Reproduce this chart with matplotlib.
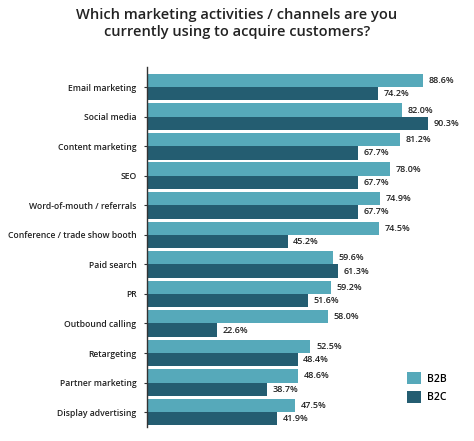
import matplotlib.pyplot as plt
import numpy as np

categories = [
    "Email marketing", "Social media", "Content marketing", "SEO",
    "Word-of-mouth / referrals", "Conference / trade show booth",
    "Paid search", "PR", "Outbound calling", "Retargeting",
    "Partner marketing", "Display advertising",
]
b2b = [88.6, 82.0, 81.2, 78.0, 74.9, 74.5, 59.6, 59.2, 58.0, 52.5, 48.6, 47.5]
b2c = [74.2, 90.3, 67.7, 67.7, 67.7, 45.2, 61.3, 51.6, 22.6, 48.4, 38.7, 41.9]
series_names = ["B2B", "B2C"]

c_b2b = "#56a9ba"
c_b2c = "#245d71"
text_color = "#222222"

plt.rcParams["font.family"] = ["Open Sans", "DejaVu Sans"]

fig = plt.figure(figsize=(4.74, 4.41), dpi=100)
ax = fig.add_axes([0.310, 0.032, 0.657, 0.816])

y = np.arange(len(categories))
h = 0.45
bars1 = ax.barh(y - h / 2, b2b, height=h, color=c_b2b, label=series_names[0])
bars2 = ax.barh(y + h / 2, b2c, height=h, color=c_b2c, label=series_names[1])

for bars, vals in ((bars1, b2b), (bars2, b2c)):
    for b, v in zip(bars, vals):
        ax.annotate(f"{v:.1f}%", (v, b.get_y() + b.get_height() / 2),
                    xytext=(4, 0), textcoords="offset points",
                    ha="left", va="center", fontsize=6.5,
                    fontweight="semibold", color=text_color)

ax.set_xlim(0, 100)
ax.set_ylim(11.5, -0.68)
ax.set_yticks(y)
ax.set_yticklabels(categories, fontsize=6.2, fontweight="semibold", color=text_color)
ax.tick_params(axis="y", length=2.5, width=0.8, color="#333333", pad=5)
ax.set_xticks([])
for s in ("top", "right", "bottom"):
    ax.spines[s].set_visible(False)
ax.spines["left"].set_color("#333333")
ax.spines["left"].set_linewidth(1.0)

fig.text(0.5, 0.982, "Which marketing activities / channels are you\ncurrently using to acquire customers?",
         ha="center", va="top", fontsize=10.5, fontweight="semibold",
         color=text_color, linespacing=1.25)

ax.legend(loc="upper left", bbox_to_anchor=(0.838, 0.177), bbox_transform=fig.transFigure,
          frameon=False, handlelength=1.4, handleheight=1.4,
          labelspacing=0.55, handletextpad=0.55, prop={"weight": "semibold", "size": 7.5})

fig.savefig("out.png", dpi=100, facecolor="white")
